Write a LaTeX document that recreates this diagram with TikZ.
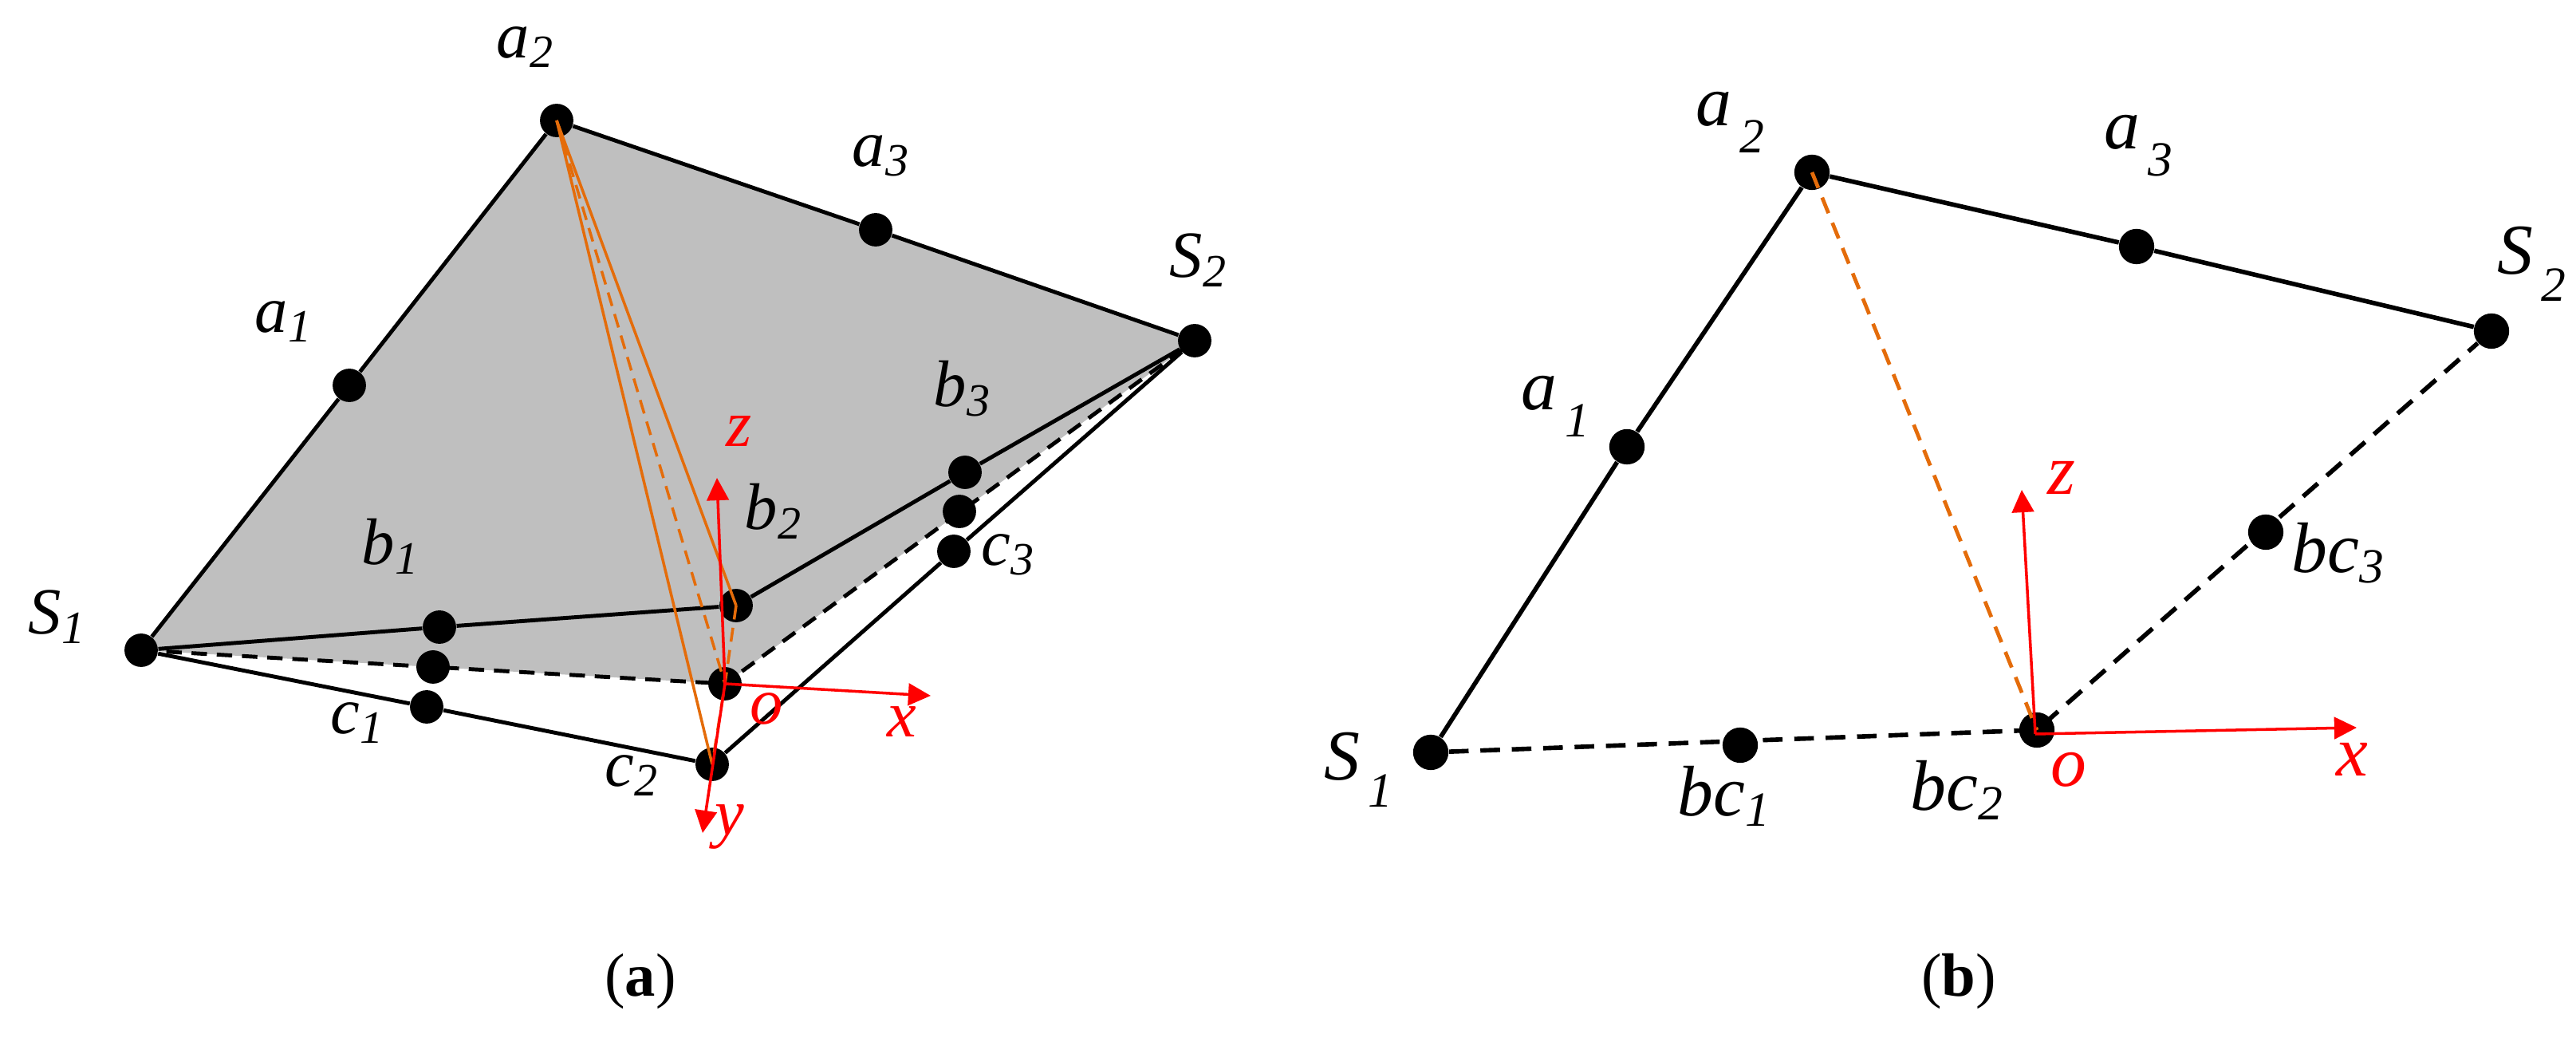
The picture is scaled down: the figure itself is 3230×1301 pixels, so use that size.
\documentclass[tikz,border=0pt]{standalone}
\usepackage{fontspec}
\setmainfont{Liberation Serif}
\usepackage{xcolor}
\usepackage{tikz}
\usetikzlibrary{arrows, arrows.meta}
\pgfdeclarelayer{bg}
\pgfsetlayers{bg,main}
\definecolor{edgeorange}{RGB}{228,108,10}
\definecolor{facegray}{RGB}{191,191,191}
\newcommand{\sublab}[3][0.14em]{#2\raisebox{-#1}{\fontsize{16.5}{17}\selectfont #3}}
\newcommand{\sublabb}[3][0.14em]{#2\raisebox{-#1}{\fontsize{17.5}{18}\selectfont #3}}
\tikzset{
	ptnode/.style={circle, fill=black, inner sep=0pt, minimum size=11.9pt},
	ptnodeb/.style={circle, fill=black, inner sep=0pt, minimum size=12.6pt},
	lab/.style={anchor=base west, inner sep=0pt, font=\fontsize{23.5}{24}\selectfont\itshape},
	labb/.style={anchor=base west, inner sep=0pt, font=\fontsize{25.5}{26}\selectfont\itshape},
	redlab/.style={lab, text=red},
	redlabb/.style={labb, text=red},
	caption/.style={anchor=base, inner sep=0pt, font=\fontsize{21.8}{22}\selectfont},
	edge/.style={draw=black, line width=1.4pt},
	edgeb/.style={draw=black, line width=1.6pt},
	hidden/.style={draw=black, line width=1.4pt, dash pattern=on 5.5pt off 3.5pt},
	hiddenb/.style={draw=black, line width=1.6pt, dash pattern=on 7pt off 4.2pt},
	cut/.style={draw=edgeorange, line width=1pt},
	cutdash/.style={draw=edgeorange, line width=1pt, dash pattern=on 5pt off 3pt},
	cutdashb/.style={draw=edgeorange, line width=1.35pt, dash pattern=on 6pt off 3.7pt},
	axis/.style={draw=red, line width=1pt, -{Triangle[length=8pt, width=7.8pt]}}
}
\begin{document}
\begin{tikzpicture}[x=0.01cm, y=-0.01cm]
	\useasboundingbox (0,0) rectangle (3230,1301);
	% panel a
	\node[ptnode] (S1) at (177,815){};
	\node[ptnode] (a1) at (438,483){};
	\node[ptnode] (a2) at (698,151){};
	\node[ptnode] (a3) at (1098,288){};
	\node[ptnode] (S2) at (1498,427){};
	\node[ptnode] (b1) at (551,786){};
	\node[ptnode] (b2) at (923,759){};
	\node[ptnode] (b3) at (1210,592){};
	\node[ptnode] (m1) at (543,836){};
	\node[ptnode] (m2) at (909,857){};
	\node[ptnode] (m3) at (1203,641){};
	\node[ptnode] (c1) at (535,886){};
	\node[ptnode] (c2) at (893,958){};
	\node[ptnode] (c3) at (1196,691){};
	\coordinate (xtipA) at (1167,872);
	\coordinate (ytipA) at (881,1044);
	\coordinate (ztipA) at (899,599);
	% panel b
	\node[ptnodeb] (S1b) at (1794,943){};
	\node[ptnodeb] (a1b) at (2040,560){};
	\node[ptnodeb] (a2b) at (2272,216){};
	\node[ptnodeb] (a3b) at (2679,309){};
	\node[ptnodeb] (S2b) at (3124,415){};
	\node[ptnodeb] (bc1) at (2182,934){};
	\node[ptnodeb] (bc2) at (2554,915){};
	\node[ptnodeb] (bc3) at (2841,667){};
	\coordinate (origB) at (2552,920);
	\coordinate (xtipB) at (2955,912);
	\coordinate (ztipB) at (2535,614);
	\begin{pgfonlayer}{bg}
		\fill[facegray] (S1.center) -- (a2.center) -- (S2.center) -- (m2.center) -- cycle;
		\draw[edge] (S1) -- (a1) -- (a2) -- (a3) -- (S2);
		\draw[edge] (S1) -- (b1) -- (b2) -- (b3) -- (S2);
		\draw[edge] (S1) -- (c1) -- (c2) -- (c3) -- (S2);
		\draw[hidden] (S1.center) -- (m2.center) -- (S2.center);
		\draw[edgeb] (S1b) -- (a1b) -- (a2b) -- (a3b) -- (S2b);
		\draw[hiddenb] (S1b) -- (bc2.center) -- (S2b);
	\end{pgfonlayer}
	\draw[cut] (a2.center) -- (b2.center);
	\draw[cut] (a2.center) -- (c2.center);
	\draw[cutdash] (a2.center) -- (m2.center);
	\draw[cutdash] (b2.center) -- (m2.center) -- (c2.center);
	\draw[cutdashb] (a2b.center) -- (bc2.center);
	\draw[axis] (m2.center) -- (xtipA);
	\draw[axis] (m2.center) -- (ytipA);
	\draw[axis] (m2.center) -- (ztipA);
	\draw[axis] (origB) -- (xtipB);
	\draw[axis] (origB) -- (ztipB);
	% labels a
	\node[lab] (la1) at (319,417){\sublab{a}{1}};
	\node[lab] (la2) at (622,73){\sublab{a}{2}};
	\node[lab] (la3) at (1068,209){\sublab{a}{3}};
	\node[lab] (lS1) at (35,795){\sublab{S}{1}};
	\node[lab] (lS2) at (1466,348){\sublab{S}{2}};
	\node[lab] (lb1) at (453,708){\sublab{b}{1}};
	\node[lab] (lb2) at (933,664){\sublab{b}{2}};
	\node[lab] (lb3) at (1170,510){\sublab{b}{3}};
	\node[lab] (lc1) at (414,920){\sublab{c}{1}};
	\node[lab] (lc2) at (758,986){\sublab{c}{2}};
	\node[lab] (lc3) at (1230,709){\sublab{c}{3}};
	\node[redlab] (lz) at (910,560){z};
	\node[redlab] (lo) at (940,908){o};
	\node[redlab] (lx) at (1112,924){x};
	\node[redlab] (ly) at (896,1047){y};
	\node[caption] (capa) at (803,1248){(\textbf{a})};
	% labels b
	\node[labb] (la1b) at (1907,514){\sublabb[0.37em]{a}{\,1}};
	\node[labb] (la2b) at (2126,158){\sublabb[0.37em]{a}{\,2}};
	\node[labb] (la3b) at (2638,187){\sublabb[0.37em]{a}{\,3}};
	\node[labb] (lS1b) at (1660,978){\sublabb[0.37em]{S}{\,1}};
	\node[labb] (lS2b) at (3131,344){\sublabb[0.37em]{S}{\,2}};
	\node[labb] (lbc1) at (2103,1023){\sublabb{bc}{1}};
	\node[labb] (lbc2) at (2395,1015){\sublabb{bc}{2}};
	\node[labb] (lbc3) at (2873,718){\sublabb{bc}{3}};
	\node[redlabb] (lzb) at (2567,620){z};
	\node[redlabb] (lob) at (2571,985){o};
	\node[redlabb] (lxb) at (2929,972){x};
	\node[caption] (capb) at (2456,1248){(\textbf{b})};
\end{tikzpicture}
\end{document}
